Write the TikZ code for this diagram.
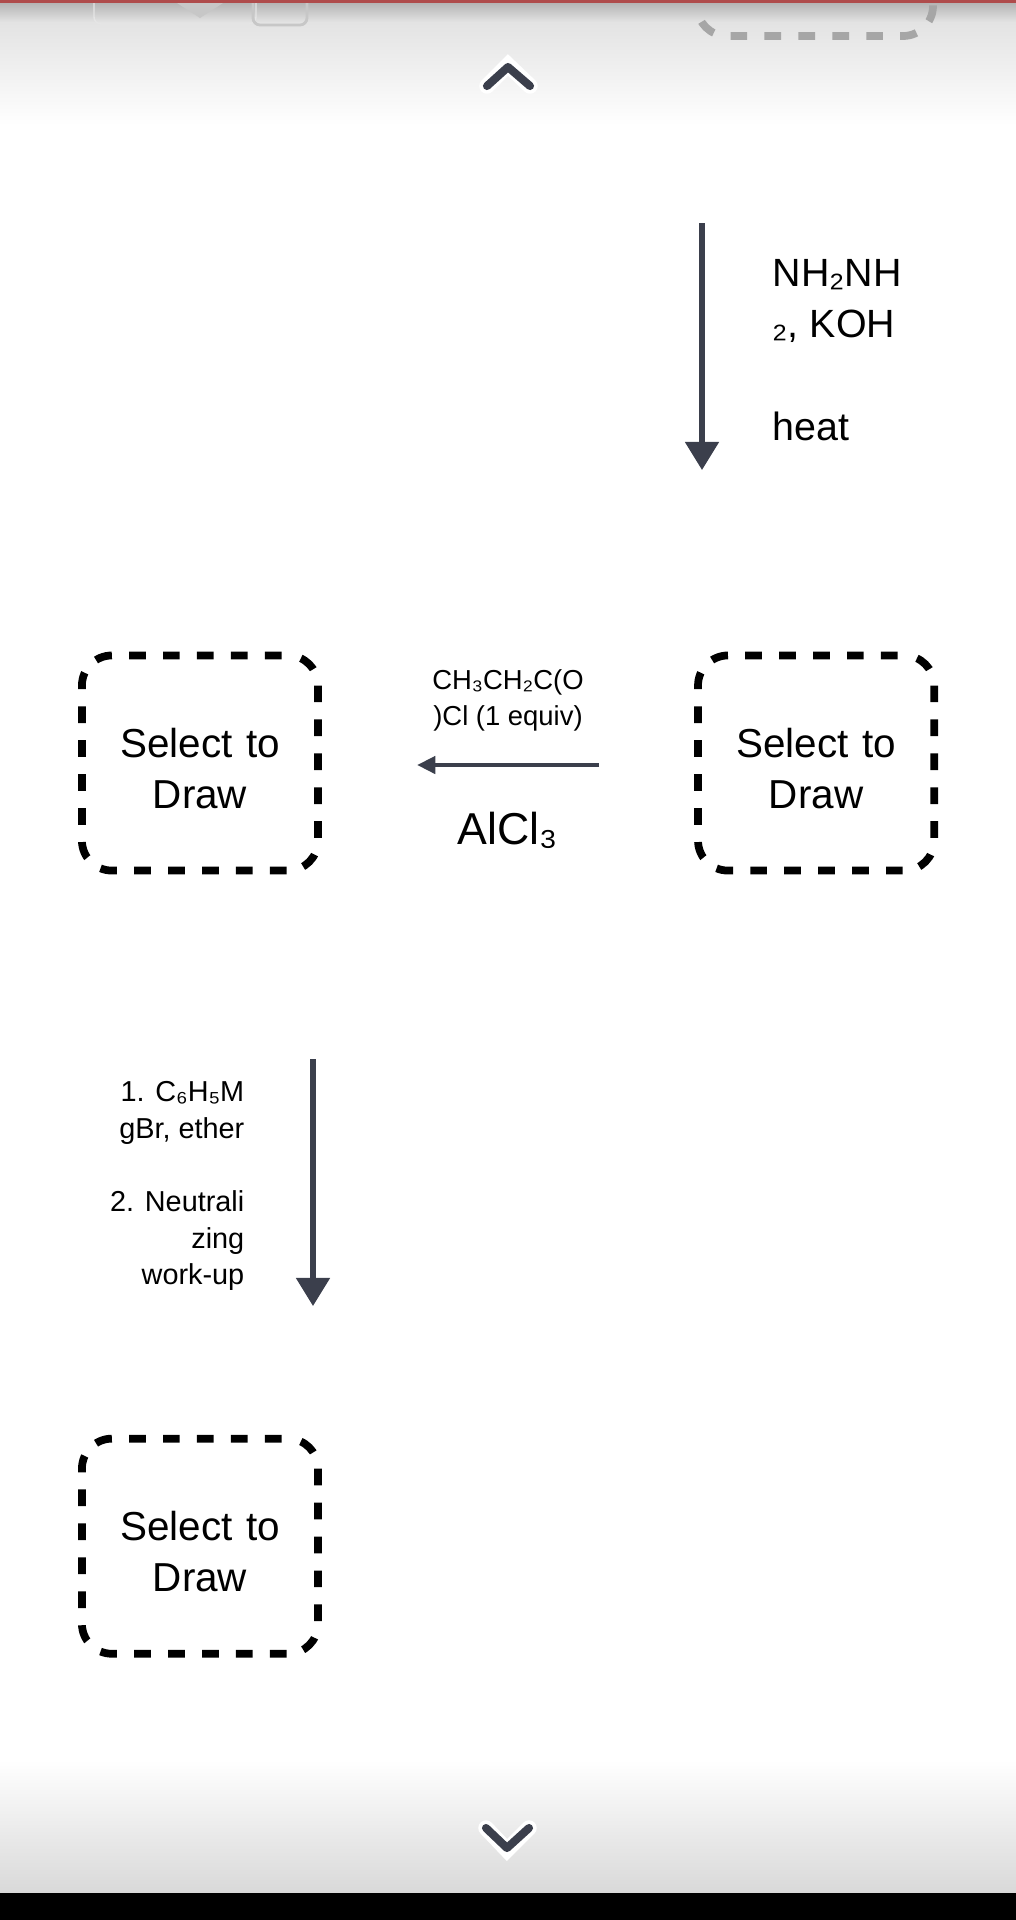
\documentclass[tikz,border=0pt]{standalone}
\usepackage{fontspec}
\setmainfont{Liberation Sans}
\usetikzlibrary{arrows.meta, positioning}
\definecolor{arrowgray}{HTML}{3B3F4C}
\newcommand{\selectdraw}{\rule{0pt}{11.4pt}Select to\\Draw}
\tikzstyle{drawbox} = [rectangle, draw=black, line width=2.2pt, dash pattern=on 4.75pt off 4.9pt, dash phase=7.8pt, rounded corners=0.3cm, minimum width=2.36cm, minimum height=2.15cm, text width=2.0cm, align=center, font=\fontsize{11.5}{14.3}\selectfont, inner sep=0pt]
\tikzstyle{line} = [draw=arrowgray, line width=1.45pt, -{Triangle[width=9.4pt,length=8pt]}]
\tikzstyle{thinline} = [draw=arrowgray, line width=1.4pt, -{Triangle[width=4.8pt,length=5.2pt]}]
\tikzstyle{reagent} = [inner sep=0pt, align=left, font=\fontsize{11.2}{14.3}\selectfont]
\tikzstyle{smallreagent} = [inner sep=0pt, align=center, font=\fontsize{7.8}{10.4}\selectfont]
\tikzstyle{chev} = [line width=2.3pt, draw=arrowgray, line cap=round, line join=round]
\tikzstyle{halo} = [line width=4.4pt, draw=white, line cap=round, line join=miter]

\begin{document}
\begin{tikzpicture}[x=0.01cm, y=-0.01cm]
\useasboundingbox (0,0) rectangle (1016,1920);
% fades at top and bottom
\fill [top color=black!32, bottom color=black!11] (0,0) rectangle (1016,22);
\fill [top color=black!11, bottom color=white] (0,22) rectangle (1016,125);
\fill [top color=white, bottom color=black!15] (0,1760) rectangle (1016,1893);
\fill [black] (0,1893) rectangle (1016,1920);
\fill [red!55!black!70] (0,0) rectangle (1016,3);
% boxes left under the fade
\begin{scope}
\clip (0,3) rectangle (1016,125);
\draw [black!10, rounded corners=2pt] (94,-30) rectangle (256,24);
\fill [black!22] (177,3) -- (223,3) -- (200,18) -- cycle;
\draw [black!22, line width=0.8pt, rounded corners=2pt] (253,-20) rectangle (307,25);
\draw [black!35, line width=2.2pt, dash pattern=on 4.75pt off 4.9pt, dash phase=7.8pt, rounded corners=0.3cm] (697,36) rectangle (933,-181);
\end{scope}

\node (boxa) [drawbox] at (200,763) {\selectdraw};
\node (boxb) [drawbox, right=3.72cm of boxa] {\selectdraw};
\node (boxc) [drawbox, below=5.6cm of boxa] {\selectdraw};

\coordinate (hydstart) at (702,223);
\coordinate (hydend) at (702,470);
\coordinate (acylstart) at (599,765);
\coordinate (acylend) at (417,765);
\coordinate (grigstart) at (313,1059);
\coordinate (grigend) at (313,1306);

\draw [line] (hydstart) -- (hydend);
\draw [thinline] (acylstart) -- (acylend);
\draw [line] (grigstart) -- (grigend);

\node (hyd) [reagent, anchor=north west] at (772,259) {NH₂NH\\₂, KOH\\[15.2pt]heat};
\node (acyl) [smallreagent, anchor=south] at (508,732) {CH₃CH₂C(O\\)Cl (1 equiv)};
\node (alcl) [reagent, font=\fontsize{12.7}{15}\selectfont, below=0.79cm of acyl.south] {AlCl₃};
\node (grig) [smallreagent, font=\fontsize{8.2}{10.4}\selectfont, align=right, anchor=north east] at (245,1081) {1. C₆H₅M\\gBr, ether\\[10.4pt]2. Neutrali\\zing\\work-up};

% scroll chevrons
\draw [halo] (487,86) -- (508,65) -- (530,86);
\draw [chev] (487,86) -- (508,67) -- (530,86);
\draw [halo] (486,1828) -- (507,1850) -- (529,1828);
\draw [chev] (486,1828) -- (507,1848) -- (529,1828);
\end{tikzpicture}
\end{document}
